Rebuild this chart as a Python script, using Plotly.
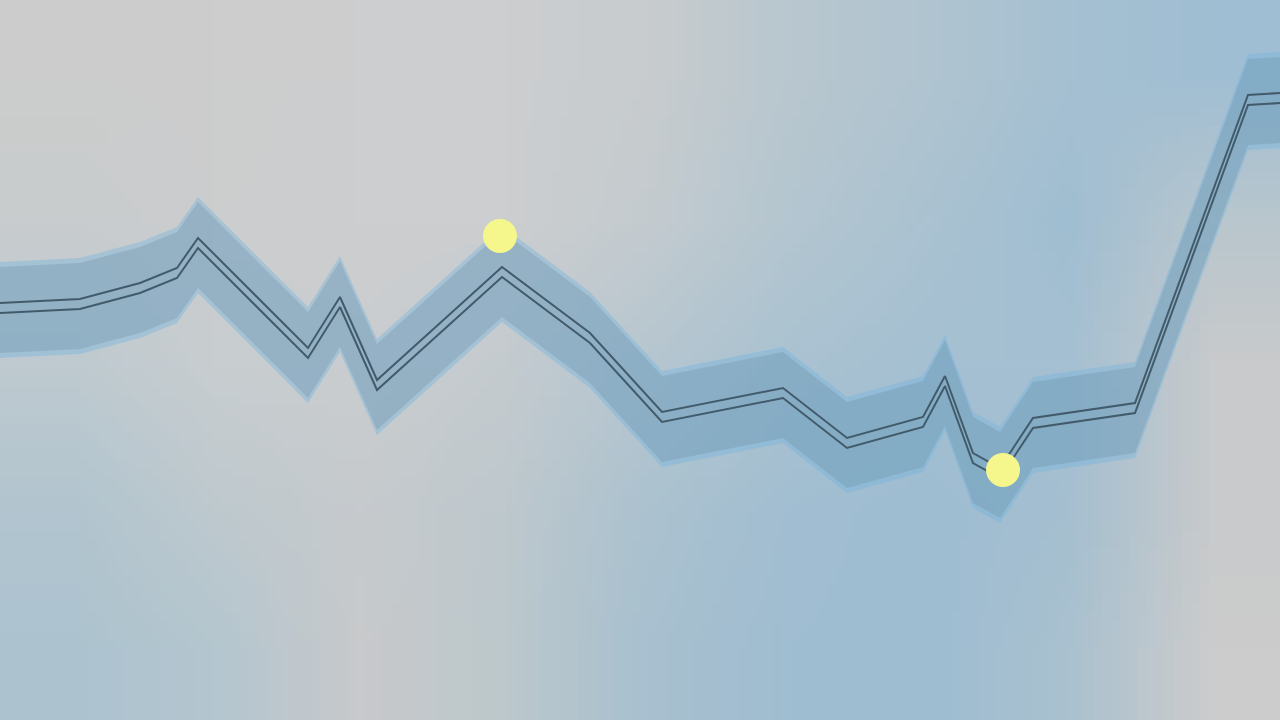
import base64
import struct
import zlib

import plotly.graph_objects as go

# ---- data ----
days = [0, 80, 140, 177, 198, 308, 340, 377, 502, 590, 662, 783, 847, 923, 945, 973, 1000, 1033, 1135, 1248, 1280]
price = [41.7, 42.1, 43.7, 45.2, 48.2, 37.2, 42.3, 34.0, 45.3, 38.7, 30.8, 33.2, 28.2, 30.3, 34.4, 26.7, 25.2, 30.2, 31.7, 62.5, 62.7]
price_shadow = [p - 1.0 for p in price]
band_upper = [p + 3.6 for p in price]
band_lower = [p - 5.0 for p in price]
halo_upper = [p + 4.1 for p in price]
halo_lower = [p - 5.5 for p in price]
marker_days = [500, 1003]
marker_price = [48.4, 25.0]

# ---- background gradient (small image, stretched smoothly) ----
bg_rows = [
    [(204, 204, 204), (205, 205, 205), (205, 206, 207), (204, 206, 208), (200, 204, 206), (185, 199, 207), (176, 196, 208), (165, 192, 210), (160, 190, 211)],
    [(200, 204, 206), (204, 205, 206), (205, 206, 207), (204, 206, 208), (196, 203, 207), (180, 198, 208), (170, 194, 209), (160, 190, 210), (185, 198, 205)],
    [(190, 202, 208), (200, 205, 208), (202, 205, 207), (196, 203, 207), (182, 198, 208), (170, 194, 209), (165, 192, 210), (165, 192, 210), (200, 202, 203)],
    [(178, 197, 207), (190, 201, 206), (198, 202, 205), (190, 200, 205), (172, 194, 207), (162, 190, 209), (158, 189, 210), (165, 191, 208), (200, 202, 203)],
    [(172, 195, 207), (180, 198, 207), (200, 201, 203), (188, 200, 204), (168, 192, 207), (160, 189, 209), (158, 189, 210), (170, 193, 207), (204, 204, 204)],
]


def png_uri(rows):
    h = len(rows)
    w = len(rows[0])
    raw = b"".join(b"\x00" + bytes([c for px in row for c in px]) for row in rows)

    def chunk(tag, data):
        c = struct.pack(">I", len(data)) + tag + data
        return c + struct.pack(">I", zlib.crc32(tag + data) & 0xFFFFFFFF)

    png = b"\x89PNG\r\n\x1a\n"
    png += chunk(b"IHDR", struct.pack(">IIBBBBB", w, h, 8, 2, 0, 0, 0))
    png += chunk(b"IDAT", zlib.compress(raw, 9))
    png += chunk(b"IEND", b"")
    return "data:image/png;base64," + base64.b64encode(png).decode()


fig = go.Figure()

# halo (light blue fringe)
fig.add_trace(go.Scatter(x=days, y=halo_lower, mode="lines", line=dict(width=0), hoverinfo="skip", showlegend=False))
fig.add_trace(go.Scatter(x=days, y=halo_upper, mode="lines", line=dict(width=0), fill="tonexty",
                         fillcolor="rgba(115,180,222,0.40)", hoverinfo="skip", showlegend=False))
# inner band
fig.add_trace(go.Scatter(x=days, y=band_lower, mode="lines", line=dict(width=0), hoverinfo="skip", showlegend=False))
fig.add_trace(go.Scatter(x=days, y=band_upper, mode="lines", line=dict(width=0), fill="tonexty",
                         fillcolor="rgba(100,130,150,0.26)", hoverinfo="skip", showlegend=False))
# double line
fig.add_trace(go.Scatter(x=days, y=price_shadow, mode="lines", line=dict(color="#425b6b", width=2), showlegend=False))
fig.add_trace(go.Scatter(x=days, y=price, mode="lines", line=dict(color="#425b6b", width=2), showlegend=False))
# highlighted points
fig.add_trace(go.Scatter(x=marker_days, y=marker_price, mode="markers",
                         marker=dict(size=34, color="#f5f78c", line=dict(width=0)), showlegend=False))

fig.add_layout_image(dict(source=png_uri(bg_rows), xref="paper", yref="paper", x=0, y=1,
                          sizex=1, sizey=1, sizing="stretch", layer="below", xanchor="left", yanchor="top"))

fig.update_layout(
    width=1280, height=720,
    margin=dict(l=0, r=0, t=0, b=0),
    paper_bgcolor="#cdcfd1",
    plot_bgcolor="rgba(0,0,0,0)",
    xaxis=dict(range=[0, 1280], visible=False, fixedrange=True),
    yaxis=dict(range=[0, 72], visible=False, fixedrange=True),
    showlegend=False,
)

fig.write_html(
    "out.html",
    config={"displayModeBar": False},
    post_script="document.body.style.margin='0';document.body.style.overflow='hidden';",
)
